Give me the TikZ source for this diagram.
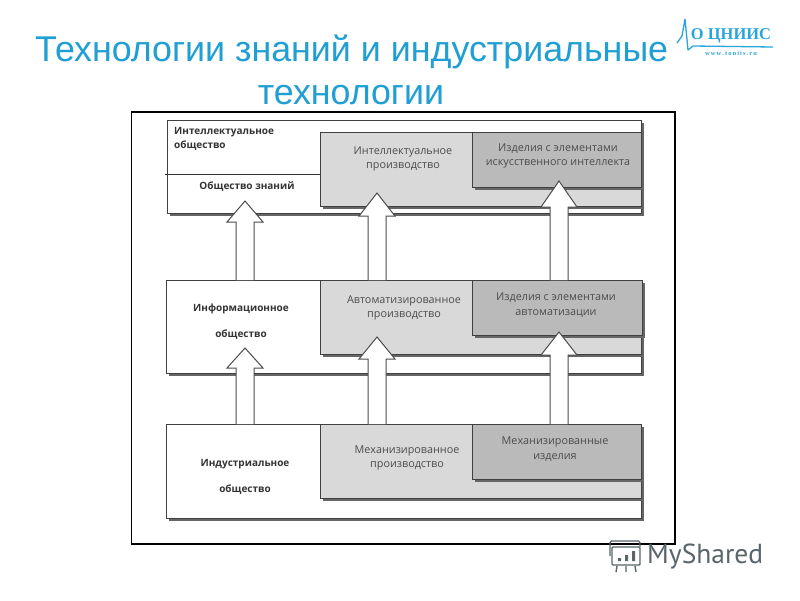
\documentclass[tikz,border=0pt]{standalone}
\usepackage{fontspec}
\setmainfont{Open Sans}
\newfontfamily\titlefont{Liberation Sans}
\newfontfamily\logofont{Liberation Serif}
\newfontfamily\markfont{PT Sans}
\usetikzlibrary{shadows}

\begin{document}
\begin{tikzpicture}[x=1pt,y=-1pt]
    % Colors
    \definecolor{title color}{HTML}{1F9FD3}
    \definecolor{logo color}{HTML}{2AA5DC}
    \definecolor{mark color}{HTML}{59656A}
    \colorlet{light grey}{black!15}
    \colorlet{dark grey}{black!27}

    % Styles
    \tikzset{
        box/.style={draw=black!75,line width=0.7pt,anchor=north west,inner sep=0pt,
            drop shadow={shadow xshift=2.5pt,shadow yshift=-2.5pt,fill=black!60,opacity=1}},
        society/.style={box,fill=white},
        production/.style={box,fill=light grey},
        product/.style={box,fill=dark grey},
        block arrow/.style={draw=black!70,fill=white,line width=1pt,line join=miter},
        label/.style={align=center,font=\fontsize{10.8}{14.5}\selectfont,text=black!70},
        society label/.style={align=center,font=\fontsize{10}{14}\selectfont\bfseries,text=black!80,inner sep=0pt},
        title text/.style={font=\titlefont\fontsize{35.8}{43}\selectfont,text=title color,inner sep=0pt}
    }

    \useasboundingbox (0,0) rectangle (800,600);
    \fill[white] (0,0) rectangle (800,600);

    %%% Title
    \node[title text,anchor=base west] (title one) at (35,61) {Технологии знаний и индустриальные};
    \node[title text,anchor=base] (title two) at (351,104) {технологии};
    %%%

    %%% Frame
    \draw[black,line width=1.5pt] (131.5,112) rectangle (675,544);
    %%%

    %%% Top level
    \node[society,minimum width=474pt,minimum height=93pt] (know) at (167,120) {};
    \node[production,minimum width=321pt,minimum height=74pt] (know prod) at (320,132) {};
    \node[product,minimum width=169pt,minimum height=55pt] (know item) at (472,132) {};
    \draw[black!80] (165,174) -- (320,174);
    \node[society label,anchor=north west,align=left] (know one) at (174,127) {Интеллектуальное\\общество};
    \node[society label] (know two) at (247,187) {Общество знаний};
    \node[label] (know prod text) at (403,159) {Интеллектуальное\\производство};
    \node[label] (know item text) at (558,156) {Изделия с элементами\\искусственного интеллекта};
    %%%

    %%% Middle level
    \node[society,minimum width=475pt,minimum height=93pt] (info) at (166,280) {};
    \node[production,minimum width=321pt,minimum height=74pt] (info prod) at (320,280) {};
    \node[product,minimum width=170pt,minimum height=55pt] (info item) at (472,280) {};
    \node[society label] (info one) at (241,309) {Информационное};
    \node[society label] (info two) at (241,335) {общество};
    \node[label] (info prod text) at (404,308) {Автоматизированное\\производство};
    \node[label] (info item text) at (556,305) {Изделия с элементами\\автоматизации};
    %%%

    %%% Bottom level
    \node[society,minimum width=475pt,minimum height=94pt] (ind) at (166,424) {};
    \node[production,minimum width=321pt,minimum height=74pt] (ind prod) at (320,424) {};
    \node[product,minimum width=169pt,minimum height=55pt] (ind item) at (472,424) {};
    \node[society label] (ind one) at (245,464) {Индустриальное};
    \node[society label] (ind two) at (245,490) {общество};
    \node[label] (ind prod text) at (407,458) {Механизированное\\производство};
    \node[label] (ind item text) at (555,449) {Механизированные\\изделия};
    %%%

    %%% Block arrows
    \foreach \x / \from / \neck / \tip in {245/info/58/79, 377/info prod/64/87, 559/info item/73/99,
        245/ind/56/76, 377/ind prod/65/87, 559/ind item/69/92}
    {
        \path (\x,0 |- \from.north) coordinate (base);
        \draw[block arrow,shift={(base)}] (-9,0) -- (-9,-\neck) -- (-18,-\neck) -- (0,-\tip)
            -- (18,-\neck) -- (9,-\neck) -- (9,0);
    }
    %%%

    %%% Logo
    \draw[logo color,line width=1.3pt,line join=round] (677,43) -- (682,36) -- (685,19) -- (688,50)
        -- (693,46) -- (773,47);
    \node[inner sep=0pt,text=logo color,font=\logofont\bfseries\fontsize{16.5}{17}\selectfont] (logo) at (731,36) {О ЦНИИС};
    \node[inner sep=0pt,text=logo color,font=\logofont\bfseries\fontsize{6.5}{7}\selectfont] (logo url) at (731,53.5) {w\,w\,w\,.\,t\,o\,n\,i\,i\,s\,.\,r\,u};
    %%%

    %%% Watermark
    \draw[mark color,line width=1.4pt,rounded corners=1pt] (612,547) rectangle (640,565);
    \draw[mark color,line width=1.4pt,rounded corners=1.5pt] (610,556) -- (610,541) -- (640,541) -- (640,547);
    \draw[mark color,line width=1.4pt] (617,566) -- (616,572) (626,566) -- (626,572) (635,566) -- (636,572);
    \fill[mark color] (618,558) rectangle (621,561) (625,555) rectangle (628,561) (632,551) rectangle (635,561);
    \node[inner sep=0pt,text=mark color,anchor=base west,font=\markfont\fontsize{27.5}{30}\selectfont] (mark) at (647,563) {MyShared};
    %%%
\end{tikzpicture}
\end{document}
